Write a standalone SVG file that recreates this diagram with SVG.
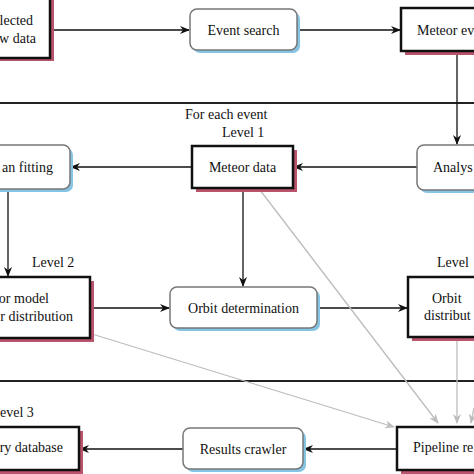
<svg xmlns="http://www.w3.org/2000/svg" width="474" height="474" viewBox="0 0 474 474">
<style>
text{font-family:"Liberation Serif","Times New Roman",serif;font-size:14px;fill:#111}
.rb{fill:#fff;stroke:#111;stroke-width:2.5}
.rs{fill:#b9546c}
.ob{fill:#fff;stroke:#777;stroke-width:1.5}
.os{fill:#86c4e4}
.c{fill:none;stroke:#111;stroke-width:1.3}
.g{fill:none;stroke:#bdbdbd;stroke-width:1.3}
.sep{stroke:#222;stroke-width:2}
</style>
<defs>
<marker id="a" markerWidth="10" markerHeight="8" refX="9" refY="4" orient="auto" markerUnits="userSpaceOnUse"><path d="M0,0 L10,4 L0,8 L3,4 Z" fill="#111"/></marker>
<marker id="ag" markerWidth="10" markerHeight="8" refX="9" refY="4" orient="auto" markerUnits="userSpaceOnUse"><path d="M0,0 L10,4 L0,8 L3,4 Z" fill="#bdbdbd"/></marker>
</defs>
<rect width="474" height="474" fill="#fff"/>
<line class="sep" x1="0" y1="103" x2="474" y2="103"/>
<line class="sep" x1="0" y1="381" x2="474" y2="381"/>
<text x="185" y="119">For each event</text>
<text x="222" y="137">Level 1</text>
<text x="32" y="267">Level 2</text>
<text x="437" y="267">Level</text>
<text x="0" y="417">evel 3</text>
<g id="connectors">
<line class="c" x1="51" y1="30" x2="189" y2="30" marker-end="url(#a)"/>
<line class="c" x1="297" y1="30" x2="400" y2="30" marker-end="url(#a)"/>
<line class="c" x1="457" y1="52" x2="457" y2="144" marker-end="url(#a)"/>
<line class="c" x1="417" y1="167" x2="294" y2="167" marker-end="url(#a)"/>
<line class="c" x1="192" y1="167" x2="71" y2="167" marker-end="url(#a)"/>
<line class="c" x1="8" y1="189" x2="8" y2="276" marker-end="url(#a)"/>
<line class="c" x1="243" y1="189" x2="243" y2="286" marker-end="url(#a)"/>
<line class="c" x1="91" y1="308" x2="169" y2="308" marker-end="url(#a)"/>
<line class="c" x1="317" y1="308" x2="407" y2="308" marker-end="url(#a)"/>
<line class="c" x1="397" y1="449" x2="304" y2="449" marker-end="url(#a)"/>
<line class="c" x1="183" y1="449" x2="80" y2="449" marker-end="url(#a)"/>
<line class="g" x1="260" y1="190" x2="438" y2="423" marker-end="url(#ag)"/>
<line class="g" x1="92" y1="334" x2="394" y2="427" marker-end="url(#ag)"/>
<line class="g" x1="457" y1="339" x2="457" y2="423" marker-end="url(#ag)"/>
<line class="g" x1="474" y1="408" x2="471" y2="423" marker-end="url(#ag)"/>
</g>
<g id="collected">
<rect class="rs" x="-36" y="-2" width="90" height="63"/>
<rect class="rb" x="-40" y="-5" width="90" height="63"/>
<text x="33" y="25" text-anchor="end">lected</text>
<text x="36" y="43" text-anchor="end">w data</text>
</g>
<g id="event-search">
<rect class="os" x="193" y="12" width="107" height="41" rx="7"/>
<rect class="ob" x="190" y="9" width="107" height="41" rx="7"/>
<text x="243.5" y="35" text-anchor="middle">Event search</text>
</g>
<g id="meteor-events">
<rect class="rs" x="405" y="12" width="140" height="43"/>
<rect class="rb" x="401" y="8" width="140" height="43"/>
<text x="417" y="35">Meteor ev</text>
</g>
<g id="analysis">
<rect class="os" x="420" y="148" width="123" height="45" rx="7"/>
<rect class="ob" x="417" y="145" width="123" height="45" rx="7"/>
<text x="433" y="172">Analys</text>
</g>
<g id="meteor-data">
<rect class="rs" x="196" y="150" width="101" height="42"/>
<rect class="rb" x="192" y="146" width="101" height="42"/>
<text x="242.5" y="172" text-anchor="middle">Meteor data</text>
</g>
<g id="fitting">
<rect class="os" x="-57" y="148" width="130" height="44" rx="7"/>
<rect class="ob" x="-60" y="145" width="130" height="44" rx="7"/>
<text x="53" y="172" text-anchor="end">an fitting</text>
</g>
<g id="model">
<rect class="rs" x="-66" y="281" width="160" height="61"/>
<rect class="rb" x="-70" y="277" width="160" height="61"/>
<text x="49" y="303" text-anchor="end">or model</text>
<text x="73" y="321" text-anchor="end">r distribution</text>
</g>
<g id="orbit-determination">
<rect class="os" x="173" y="290" width="147" height="41" rx="7"/>
<rect class="ob" x="170" y="287" width="147" height="41" rx="7"/>
<text x="243.5" y="313" text-anchor="middle">Orbit determination</text>
</g>
<g id="orbit-distribution">
<rect class="rs" x="412" y="281" width="132" height="60"/>
<rect class="rb" x="408" y="277" width="132" height="60"/>
<text x="432" y="303">Orbit</text>
<text x="424" y="320">distribut</text>
</g>
<g id="database">
<rect class="rs" x="-56" y="431" width="139" height="43"/>
<rect class="rb" x="-60" y="427" width="139" height="43"/>
<text x="63" y="452" text-anchor="end">ry database</text>
</g>
<g id="results-crawler">
<rect class="os" x="186" y="431" width="120" height="41" rx="7"/>
<rect class="ob" x="183" y="428" width="120" height="41" rx="7"/>
<text x="243" y="454" text-anchor="middle">Results crawler</text>
</g>
<g id="pipeline">
<rect class="rs" x="401" y="431" width="143" height="43"/>
<rect class="rb" x="397" y="427" width="143" height="43"/>
<text x="413" y="452">Pipeline re</text>
</g>
</svg>
